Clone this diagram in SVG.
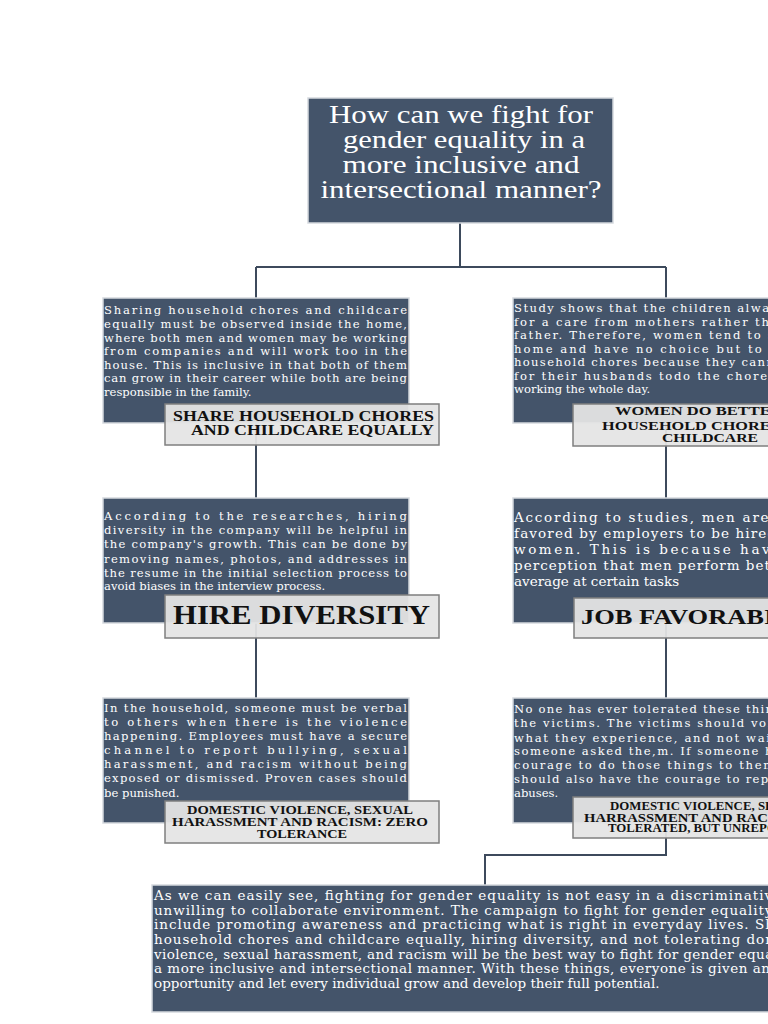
<svg xmlns="http://www.w3.org/2000/svg" width="768" height="1024" viewBox="0 0 768 1024">
<style>
.box{fill:#44546a;stroke:#d5d9de;stroke-width:1.5}
.lab{fill:#e4e4e4;stroke:#7f7f7f;stroke-width:1.5;fill-opacity:0.94}
.conn{fill:none;stroke:#3d4a5c;stroke-width:2}
.title{font-family:"Liberation Serif",serif;font-size:24.5px;fill:#ffffff;text-anchor:middle}
.b{font-family:"DejaVu Serif",serif;font-size:11.6px;fill:#ffffff}
.b13{font-family:"DejaVu Serif",serif;font-size:13.5px;fill:#ffffff}
.b14{font-family:"DejaVu Serif",serif;font-size:13.5px;fill:#ffffff}
.l{font-family:"Liberation Serif",serif;font-weight:bold;fill:#111111}
</style>
<rect width="768" height="1024" fill="#ffffff"/>

<g id="connectors">
<path class="conn" d="M460,223 V267 M256,267 H666 M256,267 V298 M666,267 V298"/>
<path class="conn" d="M256,423 V498 M256,623 V698"/>
<path class="conn" d="M666,423 V498 M666,623 V698"/>
<path class="conn" d="M666,823 V855 H485 V885"/>
</g>

<g id="title">
<rect class="box" x="308" y="98" width="305" height="125"/>
<text class="title" x="461" y="123" textLength="264" lengthAdjust="spacingAndGlyphs">How can we fight for</text>
<text class="title" x="464" y="148" textLength="242" lengthAdjust="spacingAndGlyphs">gender equality in a</text>
<text class="title" x="461" y="173" textLength="237" lengthAdjust="spacingAndGlyphs">more inclusive and</text>
<text class="title" x="461" y="198" textLength="281" lengthAdjust="spacingAndGlyphs">intersectional manner?</text>
</g>

<g id="share-household">
<rect class="box" x="103" y="298" width="306" height="125"/>
<text class="b" x="104" y="314" textLength="303" lengthAdjust="spacing">Sharing household chores and childcare</text>
<text class="b" x="104" y="328" textLength="303" lengthAdjust="spacing">equally must be observed inside the home,</text>
<text class="b" x="104" y="341.5" textLength="303" lengthAdjust="spacing">where both men and women may be working</text>
<text class="b" x="104" y="355" textLength="303" lengthAdjust="spacing">from companies and will work too in the</text>
<text class="b" x="104" y="368.5" textLength="303" lengthAdjust="spacing">house. This is inclusive in that both of them</text>
<text class="b" x="104" y="382" textLength="303" lengthAdjust="spacing">can grow in their career while both are being</text>
<text class="b" x="104" y="396">responsible in the family.</text>
<rect class="lab" x="165" y="404" width="274" height="41"/>
<text class="l" x="434" y="421" font-size="14" text-anchor="end" textLength="261" lengthAdjust="spacingAndGlyphs">SHARE HOUSEHOLD CHORES</text>
<text class="l" x="434" y="435" font-size="14" text-anchor="end" textLength="243" lengthAdjust="spacingAndGlyphs">AND CHILDCARE EQUALLY</text>
</g>

<g id="hire-diversity">
<rect class="box" x="103" y="498" width="306" height="125"/>
<text class="b" x="104" y="520" textLength="303" lengthAdjust="spacing">According to the researches, hiring</text>
<text class="b" x="104" y="534" textLength="303" lengthAdjust="spacing">diversity in the company will be helpful in</text>
<text class="b" x="104" y="548" textLength="303" lengthAdjust="spacing">the company's growth. This can be done by</text>
<text class="b" x="104" y="562.5" textLength="303" lengthAdjust="spacing">removing names, photos, and addresses in</text>
<text class="b" x="104" y="577" textLength="303" lengthAdjust="spacing">the resume in the initial selection process to</text>
<text class="b" x="104" y="590">avoid biases in the interview process.</text>
<rect class="lab" x="165" y="595" width="274" height="43"/>
<text class="l" x="173" y="624" font-size="28" textLength="257" lengthAdjust="spacingAndGlyphs">HIRE DIVERSITY</text>
</g>

<g id="zero-tolerance">
<rect class="box" x="103" y="698" width="306" height="125"/>
<text class="b" x="104" y="712" textLength="303" lengthAdjust="spacing">In the household, someone must be verbal</text>
<text class="b" x="104" y="726" textLength="303" lengthAdjust="spacing">to others when there is the violence</text>
<text class="b" x="104" y="740" textLength="303" lengthAdjust="spacing">happening. Employees must have a secure</text>
<text class="b" x="104" y="754" textLength="303" lengthAdjust="spacing">channel to report bullying, sexual</text>
<text class="b" x="104" y="768" textLength="303" lengthAdjust="spacing">harassment, and racism without being</text>
<text class="b" x="104" y="782" textLength="303" lengthAdjust="spacing">exposed or dismissed. Proven cases should</text>
<text class="b" x="104" y="797">be punished.</text>
<rect class="lab" x="165" y="801" width="274" height="42"/>
<text class="l" x="300" y="814" font-size="12.5" text-anchor="middle" textLength="226" lengthAdjust="spacingAndGlyphs">DOMESTIC VIOLENCE, SEXUAL</text>
<text class="l" x="300" y="826" font-size="12.5" text-anchor="middle" textLength="256" lengthAdjust="spacingAndGlyphs">HARASSMENT AND RACISM: ZERO</text>
<text class="l" x="302" y="838" font-size="12.5" text-anchor="middle" textLength="90" lengthAdjust="spacingAndGlyphs">TOLERANCE</text>
</g>

<g id="women-do-better">
<rect class="box" x="513" y="298" width="340" height="125"/>
<text class="b" x="514" y="312" textLength="306" lengthAdjust="spacing">Study shows that the children always look</text>
<text class="b" x="514" y="326" textLength="303" lengthAdjust="spacing">for a care from mothers rather than the</text>
<text class="b" x="514" y="339" textLength="303" lengthAdjust="spacing">father. Therefore, women tend to stay at</text>
<text class="b" x="514" y="353" textLength="303" lengthAdjust="spacing">home and have no choice but to do the</text>
<text class="b" x="514" y="366" textLength="303" lengthAdjust="spacing">household chores because they cannot ask</text>
<text class="b" x="514" y="379.5" textLength="303" lengthAdjust="spacing">for their husbands todo the chores after</text>
<text class="b" x="514" y="393">working the whole day.</text>
<rect class="lab" x="573" y="404" width="274" height="42"/>
<text class="l" x="710" y="415" font-size="12.5" text-anchor="middle" textLength="190" lengthAdjust="spacingAndGlyphs">WOMEN DO BETTER IN</text>
<text class="l" x="710" y="430" font-size="12.5" text-anchor="middle" textLength="216" lengthAdjust="spacingAndGlyphs">HOUSEHOLD CHORES AND</text>
<text class="l" x="710" y="442" font-size="12.5" text-anchor="middle" textLength="96" lengthAdjust="spacingAndGlyphs">CHILDCARE</text>
</g>

<g id="job-favorability">
<rect class="box" x="513" y="498" width="340" height="125"/>
<text class="b13" x="514" y="522" textLength="303" lengthAdjust="spacing">According to studies, men are more</text>
<text class="b13" x="514" y="538" textLength="303" lengthAdjust="spacing">favored by employers to be hired than</text>
<text class="b13" x="514" y="554" textLength="303" lengthAdjust="spacing">women. This is because have the</text>
<text class="b13" x="514" y="570" textLength="303" lengthAdjust="spacing">perception that men perform better on</text>
<text class="b13" x="514" y="586">average at certain tasks</text>
<rect class="lab" x="574" y="598" width="274" height="40"/>
<text class="l" x="710" y="624" font-size="21" text-anchor="middle" textLength="258" lengthAdjust="spacingAndGlyphs">JOB FAVORABILITY</text>
</g>

<g id="unreported">
<rect class="box" x="513" y="698" width="340" height="125"/>
<text class="b" x="514" y="713" textLength="303" lengthAdjust="spacing">No one has ever tolerated these things but</text>
<text class="b" x="514" y="727" textLength="303" lengthAdjust="spacing">the victims. The victims should voice out</text>
<text class="b" x="514" y="741.5" textLength="303" lengthAdjust="spacing">what they experience, and not wait until</text>
<text class="b" x="514" y="755" textLength="303" lengthAdjust="spacing">someone asked the,m. If someone has the</text>
<text class="b" x="514" y="769" textLength="303" lengthAdjust="spacing">courage to do those things to them, they</text>
<text class="b" x="514" y="783" textLength="303" lengthAdjust="spacing">should also have the courage to report the</text>
<text class="b" x="514" y="797">abuses.</text>
<rect class="lab" x="573" y="797" width="274" height="41"/>
<text class="l" x="710" y="810" font-size="11.5" text-anchor="middle" textLength="200" lengthAdjust="spacingAndGlyphs">DOMESTIC VIOLENCE, SEXUAL</text>
<text class="l" x="710" y="822" font-size="11.5" text-anchor="middle" textLength="252" lengthAdjust="spacingAndGlyphs">HARRASSMENT AND RACISM: NOT</text>
<text class="l" x="710" y="832" font-size="11.5" text-anchor="middle" textLength="204" lengthAdjust="spacingAndGlyphs">TOLERATED, BUT UNREPORTED</text>
</g>

<g id="conclusion">
<rect class="box" x="152" y="885" width="666" height="127"/>
<text class="b14" x="154" y="900" textLength="661" lengthAdjust="spacing">As we can easily see, fighting for gender equality is not easy in a discriminative and</text>
<text class="b14" x="154" y="914.5" textLength="661" lengthAdjust="spacing">unwilling to collaborate environment. The campaign to fight for gender equality must</text>
<text class="b14" x="154" y="929" textLength="661" lengthAdjust="spacing">include promoting awareness and practicing what is right in everyday lives. Sharing</text>
<text class="b14" x="154" y="944" textLength="661" lengthAdjust="spacing">household chores and childcare equally, hiring diversity, and not tolerating domestic</text>
<text class="b14" x="154" y="958.5" textLength="661" lengthAdjust="spacing">violence, sexual harassment, and racism will be the best way to fight for gender equality in</text>
<text class="b14" x="154" y="973" textLength="661" lengthAdjust="spacing">a more inclusive and intersectional manner. With these things, everyone is given an equal</text>
<text class="b14" x="154" y="988">opportunity and let every individual grow and develop their full potential.</text>
</g>
</svg>
